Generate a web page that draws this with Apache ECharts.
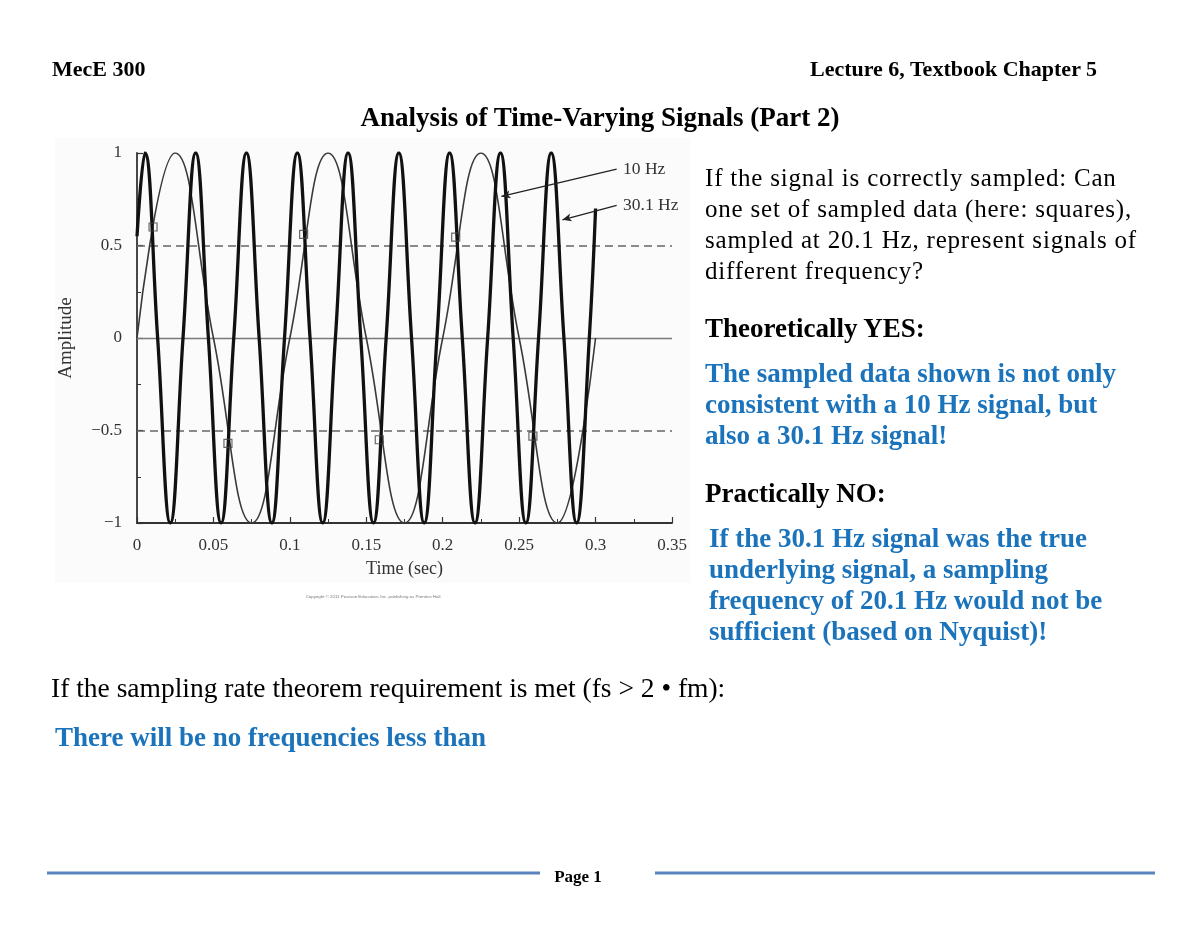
<!DOCTYPE html>
<html>
<head>
<meta charset="utf-8">
<script src="https://cdn.jsdelivr.net/npm/echarts@6/dist/echarts.min.js"></script>
<style>
html, body { margin: 0; padding: 0; background: #fff; }
#page { position: relative; width: 1200px; height: 927px; overflow: hidden; background: #fff; }
#chart { position: absolute; left: 0; top: 0; width: 1200px; height: 927px; }
.t { position: absolute; white-space: nowrap; font-family: 'Liberation Serif', 'Times New Roman', serif; line-height: 1; }
</style>
</head>
<body>
<div id="page"><div id="chart"></div></div>
<script>
// ---------- chart data ----------
const timeTickLabels = ['0', '0.05', '0.1', '0.15', '0.2', '0.25', '0.3', '0.35'];
const ampTickLabels = ['\u22121', '\u22120.5', '0', '0.5', '1'];

// 10 Hz signal: peaks, troughs and zero crossings
const t10 = [0, 0.025, 0.05, 0.075, 0.1, 0.125, 0.15, 0.175, 0.2, 0.225, 0.25, 0.275, 0.3];
const y10 = [0, 1, 0, -1, 0, 1, 0, -1, 0, 1, 0, -1, 0];

// 30.1 Hz signal: start, peaks, zero crossings, troughs, end
const t30 = [0, 0.0052, 0.0135, 0.0218, 0.0301, 0.0384, 0.0467, 0.0550, 0.0633,
  0.0716, 0.0799, 0.0882, 0.0965, 0.1049, 0.1132, 0.1215, 0.1298,
  0.1381, 0.1464, 0.1547, 0.1630, 0.1713, 0.1796, 0.1879, 0.1962,
  0.2045, 0.2128, 0.2211, 0.2294, 0.2378, 0.2461, 0.2544, 0.2627,
  0.2710, 0.2793, 0.2876, 0.2959, 0.3];
const y30 = [0.55, 1, 0, -1, 0, 1, 0, -1, 0,
  1, 0, -1, 0, 1, 0, -1, 0,
  1, 0, -1, 0, 1, 0, -1, 0,
  1, 0, -1, 0, 1, 0, -1, 0,
  1, 0, -1, 0, 0.7];

// sampled data (squares), sampled at 20.1 Hz
const sampleT = [0.0105, 0.0595, 0.109, 0.1585, 0.2085, 0.259];
const sampleY = [0.6, -0.57, 0.56, -0.55, 0.545, -0.53];

// reference lines
const refSolid = [0];
const refDashed = [0.5, -0.5];

// ---------- page text ----------
const BLUE = '#1b74bb';
const pageText = [
  { s: 'MecE 300', x: 52, b: 76, f: 22, w: 700 },
  { s: 'Lecture 6, Textbook Chapter 5', r: 1097, b: 76, f: 22, w: 700 },
  { s: 'Analysis of Time-Varying Signals (Part 2)', c: 600, b: 127, f: 27, w: 700 },
  { s: 'If the signal is correctly sampled: Can', x: 705, b: 186, f: 25, ls: 0.8 },
  { s: 'one set of sampled data (here: squares),', x: 705, b: 217, f: 25, ls: 0.8 },
  { s: 'sampled at 20.1 Hz, represent signals of', x: 705, b: 248, f: 25, ls: 0.8 },
  { s: 'different frequency?', x: 705, b: 279, f: 25, ls: 0.8 },
  { s: 'Theoretically YES:', x: 705, b: 338, f: 27, w: 700 },
  { s: 'The sampled data shown is not only', x: 705, b: 383, f: 27, w: 700, col: BLUE },
  { s: 'consistent with a 10 Hz signal, but', x: 705, b: 414, f: 27, w: 700, col: BLUE },
  { s: 'also a 30.1 Hz signal!', x: 705, b: 445, f: 27, w: 700, col: BLUE },
  { s: 'Practically NO:', x: 705, b: 503, f: 27, w: 700 },
  { s: 'If the 30.1 Hz signal was the true', x: 709, b: 548, f: 27, w: 700, col: BLUE },
  { s: 'underlying signal, a sampling', x: 709, b: 579, f: 27, w: 700, col: BLUE },
  { s: 'frequency of 20.1 Hz would not be', x: 709, b: 610, f: 27, w: 700, col: BLUE },
  { s: 'sufficient (based on Nyquist)!', x: 709, b: 641, f: 27, w: 700, col: BLUE },
  { s: 'If the sampling rate theorem requirement is met (fs > 2 \u2022 fm):', x: 51, b: 697, f: 27.5 },
  { s: 'There will be no frequencies less than', x: 55, b: 747, f: 27, w: 700, col: BLUE },
  { s: 'Page 1', c: 578, b: 882, f: 17, w: 700 }
];

const page = document.getElementById('page');
pageText.forEach(function (o) {
  const d = document.createElement('div');
  d.className = 't';
  d.textContent = o.s;
  d.style.fontSize = o.f + 'px';
  d.style.fontWeight = o.w || 400;
  d.style.color = o.col || '#000';
  if (o.ls) d.style.letterSpacing = o.ls + 'px';
  d.style.top = (o.b - 0.8375 * o.f) + 'px';
  if (o.r !== undefined) { d.style.right = (1200 - o.r) + 'px'; }
  else if (o.c !== undefined) { d.style.left = o.c + 'px'; d.style.transform = 'translateX(-50%)'; }
  else { d.style.left = o.x + 'px'; }
  d.style.zIndex = 5;
  page.appendChild(d);
});

// ---------- chart ----------
const chart = echarts.init(document.getElementById('chart'), null, { renderer: 'canvas' });
const SERIF = "'Liberation Serif', 'Times New Roman', serif";
const AX = '#333';

const option = {
  backgroundColor: '#ffffff',
  animation: false,
  grid: { left: 137, top: 153, width: 535, height: 370, containLabel: false },
  xAxis: {
    type: 'value', min: 0, max: 0.35, interval: 0.05,
    name: 'Time (sec)', nameLocation: 'middle', nameGap: 37,
    nameTextStyle: { fontFamily: SERIF, fontSize: 18, color: '#333' },
    axisLine: { show: true, onZero: false, lineStyle: { color: AX, width: 1.8 } },
    axisTick: { show: true, inside: true, length: 6, lineStyle: { color: AX, width: 1.2 } },
    minorTick: { show: true, splitNumber: 2, length: 4, lineStyle: { color: AX, width: 1 } },
    axisLabel: {
      margin: 14, fontFamily: SERIF, fontSize: 17, color: '#333', showMaxLabel: true, showMinLabel: true,
      formatter: function (v) { return timeTickLabels[Math.round(v / 0.05)]; }
    },
    splitLine: { show: false }, minorSplitLine: { show: false }
  },
  yAxis: {
    type: 'value', min: -1, max: 1, interval: 0.5,
    name: 'Amplitude', nameLocation: 'middle', nameGap: 61,
    nameTextStyle: { fontFamily: SERIF, fontSize: 19, color: '#333' },
    axisLine: { show: true, onZero: false, lineStyle: { color: AX, width: 1.8 } },
    axisTick: { show: true, inside: true, length: 6, lineStyle: { color: AX, width: 1.2 } },
    minorTick: { show: true, splitNumber: 2, length: 4, lineStyle: { color: AX, width: 1 } },
    axisLabel: {
      margin: 15, fontFamily: SERIF, fontSize: 17, color: '#333',
      formatter: function (v) { return ampTickLabels[Math.round((v + 1) / 0.5)]; }
    },
    splitLine: { show: false }, minorSplitLine: { show: false }
  },
  series: [
    {
      name: '10 Hz', type: 'line', z: 3,
      data: t10.map(function (t, i) { return [t, y10[i]]; }),
      smooth: 0.45, showSymbol: false, symbol: 'none',
      lineStyle: { color: '#3a3a3a', width: 1.6 },
      markLine: {
        z: 1, silent: true, symbol: ['none', 'none'], label: { show: false },
        data: refSolid.map(function (v) { return { yAxis: v, lineStyle: { color: '#7a7a7a', width: 1.3, type: 'solid' } }; })
          .concat(refDashed.map(function (v) { return { yAxis: v, lineStyle: { color: '#666', width: 1.5, type: [8, 5] } }; }))
      }
    },
    {
      name: '30.1 Hz', type: 'line', z: 4,
      data: t30.map(function (t, i) { return [t, y30[i]]; }),
      smooth: 0.45, showSymbol: false, symbol: 'none',
      lineStyle: { color: '#111', width: 3.3 },
      markLine: {
        z: 6, silent: true, symbol: ['none', 'arrow'], symbolSize: [6, 9], label: { show: false },
        lineStyle: { color: '#222', width: 1.3, type: 'solid' },
        data: [
          [{ coord: [0.3138, 0.913] }, { coord: [0.2384, 0.765] }],
          [{ coord: [0.3138, 0.717] }, { coord: [0.2783, 0.639] }]
        ]
      }
    },
    {
      name: 'samples', type: 'scatter', z: 5,
      data: sampleT.map(function (t, i) { return [t, sampleY[i]]; }),
      symbol: 'rect', symbolSize: 8,
      itemStyle: { color: 'rgba(255,255,255,0)', borderColor: '#444', borderWidth: 1.2 }
    }
  ],
  graphic: [
    { type: 'rect', z: -10, silent: true, shape: { x: 55, y: 138, width: 635, height: 445 }, style: { fill: '#fbfbfb' } },
    { type: 'text', z: 10, left: 623, top: 160, style: { text: '10 Hz', font: "17.5px 'Liberation Serif'", fill: '#333' } },
    { type: 'text', z: 10, left: 623, top: 196, style: { text: '30.1 Hz', font: "17.5px 'Liberation Serif'", fill: '#333' } },
    { type: 'text', z: 10, x: 373, y: 597, style: { text: 'Copyright \u00a9 2011 Pearson Education, Inc. publishing as Prentice Hall', font: "4.4px 'Liberation Sans'", fill: '#777', align: 'center', verticalAlign: 'middle' } },
    { type: 'line', z: 10, shape: { x1: 47, y1: 873, x2: 540, y2: 873 }, style: { stroke: '#5a84bd', lineWidth: 3 } },
    { type: 'line', z: 10, shape: { x1: 655, y1: 873, x2: 1155, y2: 873 }, style: { stroke: '#5a84bd', lineWidth: 3 } }
  ]
};
chart.setOption(option);
</script>
</body>
</html>
